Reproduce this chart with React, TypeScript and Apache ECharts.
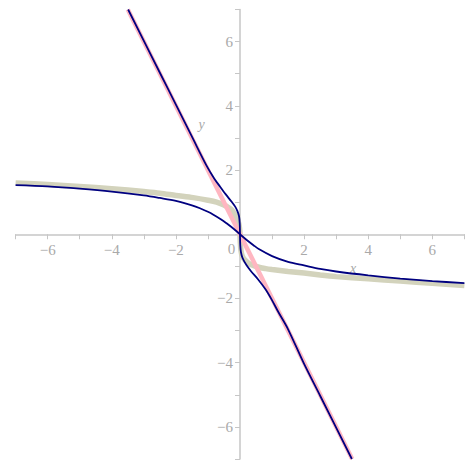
import React, { useEffect, useRef } from "react";
import * as echarts from "echarts";

// tick labels shown on the axes
const xLabelValues = [-6, -4, -2, 2, 4, 6];
const yLabelValues = [-6, -4, -2, 2, 4, 6];

// thick pink straight line
const pinkLine: [number, number][] = [
  [-3.5, 7],
  [3.5, -7],
];

// thick beige curve
const beigeCurve: [number, number][] = [
  [-7, 1.6], [-6, 1.55], [-5, 1.49], [-4, 1.42], [-3, 1.33], [-2.5, 1.28],
  [-2, 1.21], [-1.46, 1.14], [-1, 1.06], [-0.73, 1.0], [-0.5, 0.91],
  [-0.36, 0.83], [-0.25, 0.75], [-0.16, 0.62], [-0.08, 0.47], [-0.035, 0.32],
  [-0.01, 0.15], [0, 0],
  [0.01, -0.26], [0.03, -0.5], [0.07, -0.68], [0.15, -0.8], [0.31, -0.93],
  [0.56, -1.02], [0.8, -1.07], [1, -1.1], [1.5, -1.16], [2, -1.21],
  [2.5, -1.27], [3, -1.32], [4, -1.39], [5, -1.46], [6, -1.53], [7, -1.6],
];

// navy curve crossing the origin with a finite slope
const navyFlat: [number, number][] = [
  [-7, 1.53], [-6, 1.49], [-5, 1.42], [-4, 1.33], [-3, 1.21], [-2.5, 1.13],
  [-2, 1.04], [-1.5, 0.9], [-1.25, 0.81], [-1, 0.7], [-0.83, 0.61],
  [-0.6, 0.47], [-0.42, 0.34], [-0.2, 0.17], [0, 0],
  [0.2, -0.17], [0.42, -0.34], [0.6, -0.47], [1, -0.68], [1.5, -0.86],
  [2, -0.97], [2.5, -1.08], [3, -1.16], [4, -1.28], [5, -1.38], [6, -1.46],
  [7, -1.52],
];

// navy curve following the straight line, vertical at the origin
const navySteep: [number, number][] = [
  [-3.49, 7.0], [-2.5, 5.03], [-2, 4.04], [-1.46, 2.96],
  [-1.04, 2.13], [-0.8, 1.73], [-0.62, 1.48], [-0.45, 1.25], [-0.26, 1.01],
  [-0.15, 0.86], [-0.08, 0.72], [-0.03, 0.56], [-0.008, 0.34], [0, 0],
  [0.008, -0.34], [0.03, -0.56], [0.08, -0.74], [0.2, -0.96], [0.35, -1.16],
  [0.56, -1.4], [0.8, -1.72], [0.98, -2.02], [1.2, -2.43], [1.5, -2.96],
  [2, -4.04], [2.5, -5.03], [3.49, -7.0],
];

const AXIS_COLOR = "#c6c6c6";
const LABEL_COLOR = "#a9a9a9";
const FONT = "'Liberation Serif', 'DejaVu Serif', serif";

const GRID = { left: 15.6, right: 9.6, top: 9.5, bottom: 11 };
const W = 474;
const H = 470;

const fmt = (v: number) => (v < 0 ? "\u2212" + Math.abs(v) : String(v));

export default function App() {
  const ref = useRef<HTMLDivElement>(null);

  useEffect(() => {
    if (!ref.current) return;
    const chart = echarts.init(ref.current, undefined, { renderer: "svg" });

    const plotW = W - GRID.left - GRID.right;
    const plotH = H - GRID.top - GRID.bottom;

    const axisCommon = {
      type: "value" as const,
      min: -7,
      max: 7,
      interval: 1,
      splitLine: { show: false },
      axisLine: { onZero: false, lineStyle: { color: AXIS_COLOR, width: 1.5 } },
      axisTick: { show: true, length: 5, lineStyle: { color: AXIS_COLOR, width: 1 } },
    };

    chart.setOption({
      animation: false,
      grid: { ...GRID, containLabel: false },
      xAxis: {
        ...axisCommon,
        position: "bottom",
        offset: -plotH / 2,
        axisLabel: {
          color: LABEL_COLOR,
          fontFamily: FONT,
          fontSize: 15,
          margin: 8,
          formatter: (v: number) => (xLabelValues.includes(v) ? fmt(v) : ""),
        },
      },
      yAxis: {
        ...axisCommon,
        position: "left",
        offset: -plotW / 2,
        axisLabel: {
          color: LABEL_COLOR,
          fontFamily: FONT,
          fontSize: 15,
          margin: 7,
          formatter: (v: number) => (yLabelValues.includes(v) ? fmt(v) : ""),
        },
      },
      series: [
        {
          type: "line",
          data: beigeCurve,
          showSymbol: false,
          smooth: 0.3,
          lineStyle: { color: "#d3d3bc", width: 5.5 },
          silent: true,
          z: 2,
        },
        {
          type: "line",
          data: pinkLine,
          showSymbol: false,
          lineStyle: { color: "#ffb6c1", width: 4.5 },
          silent: true,
          z: 3,
        },
        {
          type: "line",
          data: navyFlat,
          showSymbol: false,
          smooth: 0.3,
          lineStyle: { color: "#000080", width: 1.8 },
          silent: true,
          z: 4,
        },
        {
          type: "line",
          data: navySteep,
          showSymbol: false,
          smooth: 0.3,
          lineStyle: { color: "#000080", width: 1.8 },
          silent: true,
          z: 5,
        },
      ],
    });

    const origin = chart.convertToPixel({ gridIndex: 0 }, [0, 0]) as number[];
    const xName = chart.convertToPixel({ gridIndex: 0 }, [3.53, -1.08]) as number[];
    const yName = chart.convertToPixel({ gridIndex: 0 }, [-1.2, 3.43]) as number[];

    chart.setOption({
      graphic: [
        {
          type: "text",
          x: origin[0] - 8.5,
          y: origin[1] + 15,
          style: {
            text: "0",
            fill: LABEL_COLOR,
            font: `15px ${FONT}`,
            textAlign: "center",
            textVerticalAlign: "middle",
          },
          silent: true,
        },
        {
          type: "text",
          x: xName[0],
          y: xName[1],
          style: {
            text: "x",
            fill: LABEL_COLOR,
            font: `italic 14px ${FONT}`,
            textAlign: "center",
            textVerticalAlign: "middle",
          },
          silent: true,
        },
        {
          type: "text",
          x: yName[0],
          y: yName[1],
          style: {
            text: "y",
            fill: LABEL_COLOR,
            font: `italic 14px ${FONT}`,
            textAlign: "center",
            textVerticalAlign: "middle",
          },
          silent: true,
        },
      ],
    });

    return () => chart.dispose();
  }, []);

  return (
    <div
      ref={ref}
      style={{ position: "fixed", left: 0, top: 0, width: W, height: H, background: "#fff" }}
    />
  );
}
